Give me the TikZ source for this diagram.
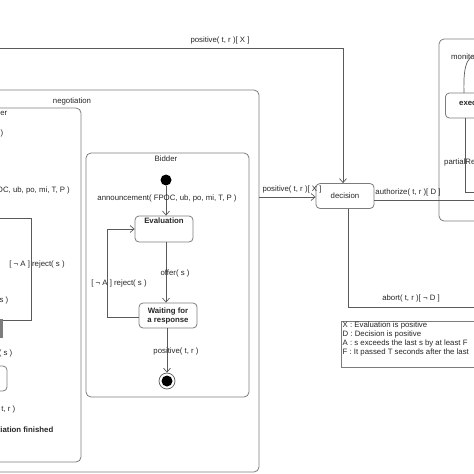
\documentclass[tikz,border=0pt]{standalone}
\usepackage{fontspec}
\setmainfont{Liberation Sans}
\usetikzlibrary{arrows.meta}
\definecolor{linec}{HTML}{5A5A5A}
\definecolor{boxc}{HTML}{7C7C7C}
\definecolor{txtc}{HTML}{262626}
\newcommand\lblfont{\fontsize{7.8}{9}\selectfont}
\begin{document}
\begin{tikzpicture}[x=1pt,y=-1pt,
  lbl/.style={font=\lblfont, text=txtc, inner sep=0pt},
  blbl/.style={lbl, font=\lblfont\bfseries},
  frame/.style={draw=boxc, rounded corners=5pt, line width=0.8pt},
  statebox/.style={draw=boxc, rounded corners=4pt, line width=0.8pt, minimum width=58pt, minimum height=25pt, inner sep=1pt, font=\lblfont\bfseries, text=txtc, align=center},
  trans/.style={draw=linec, line width=0.7pt},
  arr/.style={trans, -{Straight Barb[length=4pt,width=7pt]}}]
\useasboundingbox (0,0) rectangle (474,474);
\clip (0,0) rectangle (474,474);
% frames
\draw[frame] (-30,90) rectangle (259,472);
\draw[frame] (-30,108) rectangle (81,462);
\draw[frame] (86,153) rectangle (249,397);
\draw[frame] (439,39) rectangle (520,221);
\draw[draw=boxc, line width=0.7pt, fill=white] (341,321) rectangle (520,367);
% titles
\node[lbl] (negt) at (72,101) {negotiation};
\node[lbl] (bidt) at (166,159) {Bidder};
\node[lbl, anchor=east] (auct) at (7.5,113) {Auctioneer};
% Bidder states
\node[circle, fill=black, minimum size=11pt, inner sep=0pt] (init) at (166,180) {};
\node[statebox, minimum height=26pt] (eval) at (164,229) {};
\node[blbl, anchor=north] (evalt) at (164,217.5) {Evaluation};
\node[statebox] (wait) at (168,315.5) {Waiting for\\a response};
\node[circle, draw=linec, line width=0.7pt, minimum size=16pt, inner sep=0pt] (fin) at (167,381) {};
\node[circle, fill=black, minimum size=11pt, inner sep=0pt] (finin) at (fin) {};
% Bidder transitions
\draw[arr] (init) -- (init |- eval.north);
\node[lbl] (annl) at (167,198) {announcement( FPOC, ub, po, mi, T, P )};
\coordinate (offx) at (166,0);
\draw[arr] (eval.south -| offx) -- (wait.north -| offx);
\node[lbl] (offl) at (175,273) {offer( s )};
\coordinate (posx) at (167,0);
\draw[arr] (wait.south -| posx) -- (fin.north -| posx);
\node[lbl] (posl) at (176,351) {positive( t, r )};
\coordinate (rj1) at (107,317);
\coordinate (rj2) at (107,229);
\draw[arr] (wait.west |- rj1) -- (rj1) -- (rj2) -- (eval.west);
\node[lbl] (rejl) at (119,283) {[ ¬ A ] reject( s )};
% Auctioneer (cut) contents
\node[lbl, anchor=east] (a1) at (3.5,133) {)};
\node[lbl, anchor=east] (a2) at (70,190) {announcement( FPOC, ub, po, mi, T, P )};
\coordinate (al1) at (-10,218);
\coordinate (al2) at (31,218);
\coordinate (al3) at (31,320);
\coordinate (al4) at (-10,320);
\draw[trans] (al1) -- (al2) -- (al3) -- (al4);
\node[lbl] (a3) at (37,264) {[ ¬ A ] reject( s )};
\node[lbl, anchor=east] (a4) at (8.5,300) {offer( s )};
\fill[boxc] (-5,319) rectangle (3,338);
\node[lbl, anchor=east] (a5) at (12.5,353) {offer( s )};
\draw[draw=boxc, rounded corners=4pt, line width=0.8pt] (-60,366) rectangle (7,391);
\node[lbl, anchor=east] (a6) at (15.5,409) {positive( t, r )};
\node[blbl, anchor=east] (a7) at (53.5,430) {negotiation finished};
% decision
\node[statebox, font=\lblfont, minimum height=25pt] (dec) at (345,196) {decision};
\coordinate (t1) at (-10,48);
\coordinate (t2) at (343,48);
\draw[arr] (t1) -- (t2) -- (t2 |- dec.north);
\node[lbl] (topl) at (220,40) {positive( t, r )[ X ]};
\coordinate (p1) at (259,197);
\draw[arr] (p1) -- (dec.west |- p1);
\node[lbl] (p1l) at (292,189) {positive( t, r )[ X ]};
\coordinate (au1) at (520,200);
\draw[trans] (dec.east |- au1) -- (au1);
\node[lbl] (aul) at (408,192) {authorize( t, r )[ D ]};
\coordinate (ab1) at (348,307);
\coordinate (ab2) at (520,307);
\draw[trans] (dec.south -| ab1) -- (ab1) -- (ab2);
\node[lbl] (abl) at (411,298) {abort( t, r )[ ¬ D ]};
% right (cut) region
\node[statebox, minimum width=80pt, anchor=west] (exec) at (445,105.5) {};
\node[blbl, anchor=west] (exect) at (459,103) {execution};
\node[lbl, anchor=west] (mon) at (451,57) {monitor};
\draw[trans] (464,93) .. controls (463,62) and (468,54) .. (482,54);
\coordinate (ex1) at (465,192);
\coordinate (ex2) at (520,192);
\draw[trans] (exec.south -| ex1) -- (ex1) -- (ex2);
\node[lbl, anchor=west] (partl) at (444,162) {partialResult};
% legend
\node[lbl, anchor=north west, align=left] (leg) at (342.5,322) {X : Evaluation is positive\\D : Decision is positive\\A : s exceeds the last s by at least F\\F : It passed T seconds after the last};
\end{tikzpicture}
\end{document}
